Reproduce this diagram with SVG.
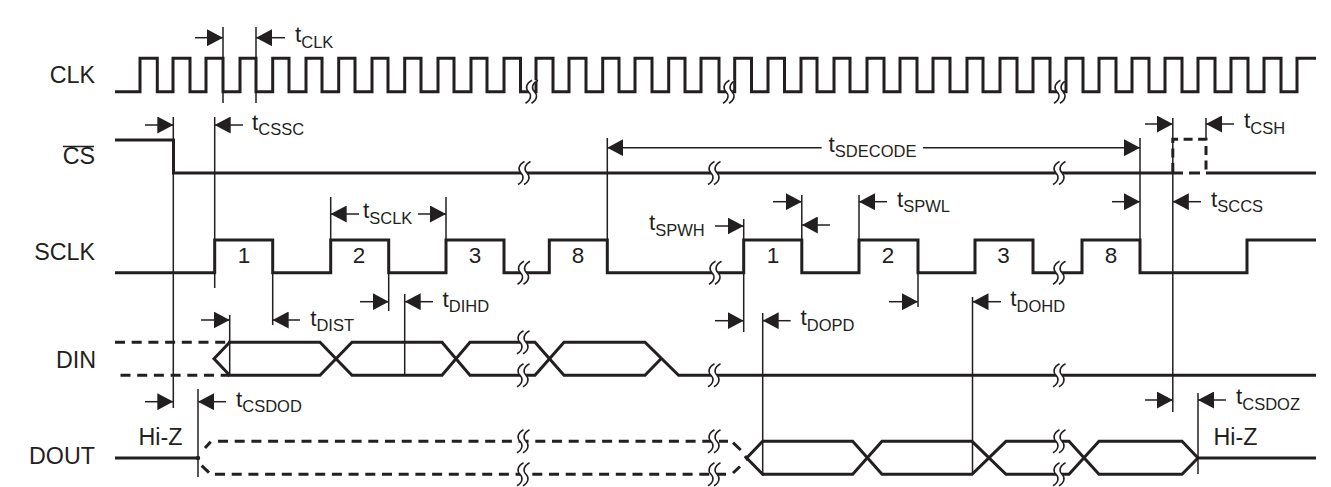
<svg xmlns="http://www.w3.org/2000/svg" xmlns:xlink="http://www.w3.org/1999/xlink" width="1331" height="487" viewBox="0 0 1331 487">
<style>
text{font-family:"Liberation Sans",Arial,sans-serif;font-size:22.5px;fill:#231f20}
.s{font-size:16.5px}
.l{font-size:23.3px}
.sig{fill:none;stroke:#231f20;stroke-width:3;stroke-linejoin:miter}
.dash{stroke-dasharray:10 6.7}
.g{fill:none;stroke:#231f20;stroke-width:1.5}
.a{fill:none;stroke:#231f20;stroke-width:1.5;marker-end:url(#ah)}
.br{fill:none;stroke:#231f20;stroke-width:1.6}
.brf{fill:#fff;stroke:none}
.m{text-anchor:middle}
.e{text-anchor:end}
</style>
<defs>
<marker id="ah" markerUnits="userSpaceOnUse" markerWidth="16" markerHeight="17" refX="16" refY="8.5" orient="auto"><path d="M0,0L16,8.5L0,17Z" fill="#231f20"/></marker>
<g id="brk">
<path class="brf" d="M.5,-11.5C-6,-8 -6,-3 -3,0C0,3 0,8 -6,11.5L0,11.5C6,8 6,3 3,0C0,-3 0,-8 6.5,-11.5Z"/>
<path class="br" d="M.5,-11.5C-6,-8 -6,-3 -3,0C0,3 0,8 -6,11.5M6.5,-11.5C0,-8 0,-3 3,0C6,3 6,8 0,11.5"/>
</g>
</defs>
<rect width="1331" height="487" fill="#fff"/>
<g id="connectors">
<path class="g" d="M223,27V103M256,27V103M173.3,117V408M214.7,117V288M330.7,197V240M446,197V240M272.7,272V325M388.7,272V311M404.7,294V375M229.7,315V375M198,389V477M743.7,219V332M801.8,195V240M859,195V240M918,272V307M972.5,297V474M762.7,313V474M607.3,138V272M1140,138V240M1172.8,118V412M1206,118V139M1198,393V474"/>
<path class="a" d="M195,37.7H223"/>
<path class="a" d="M285,37.7H256"/>
<path class="a" d="M145,125H173.3"/>
<path class="a" d="M243,125H214.7"/>
<path class="a" d="M359,214H330.7"/>
<path class="a" d="M418,214H446"/>
<path class="a" d="M300,320H272.7"/>
<path class="a" d="M360,301.7H388.7"/>
<path class="a" d="M433,301.7H404.7"/>
<path class="a" d="M201,320H229.7"/>
<path class="a" d="M145,401.7H173.3"/>
<path class="a" d="M226,401.7H198"/>
<path class="a" d="M821.7,147.7H607.3"/>
<path class="a" d="M923,147.7H1140"/>
<path class="a" d="M715,226H743.7"/>
<path class="a" d="M715,320.7H743.7"/>
<path class="a" d="M790.7,320.7H762.7"/>
<path class="a" d="M773,201.7H801.8"/>
<path class="a" d="M830,225H801.8"/>
<path class="a" d="M887,201.7H859"/>
<path class="a" d="M889,301.7H918"/>
<path class="a" d="M1001,301.7H972.5"/>
<path class="a" d="M1112,201.7H1140"/>
<path class="a" d="M1201,201.7H1172.8"/>
<path class="a" d="M1145,124H1172.8"/>
<path class="a" d="M1234,124H1206"/>
<path class="a" d="M1145,400H1172.8"/>
<path class="a" d="M1226,400H1198"/>
<text x="295" y="42">t<tspan class="s" dy="5.5">CLK</tspan></text>
<text x="252" y="129.5">t<tspan class="s" dy="5.5">CSSC</tspan></text>
<text x="363" y="218">t<tspan class="s" dy="5.5">SCLK</tspan></text>
<text x="310.2" y="325.7">t<tspan class="s" dy="5.5">DIST</tspan></text>
<text x="442.5" y="306.7">t<tspan class="s" dy="5.5">DIHD</tspan></text>
<text x="236" y="406.7">t<tspan class="s" dy="5.5">CSDOD</tspan></text>
<text x="828.6" y="151.7">t<tspan class="s" dy="5.5">SDECODE</tspan></text>
<text x="649" y="230">t<tspan class="s" dy="5.5">SPWH</tspan></text>
<text x="897" y="206.7">t<tspan class="s" dy="5.5">SPWL</tspan></text>
<text x="800.5" y="325">t<tspan class="s" dy="5.5">DOPD</tspan></text>
<text x="1010.3" y="306">t<tspan class="s" dy="5.5">DOHD</tspan></text>
<text x="1211" y="206.7">t<tspan class="s" dy="5.5">SCCS</tspan></text>
<text x="1244" y="128">t<tspan class="s" dy="5.5">CSH</tspan></text>
<text x="1236" y="404">t<tspan class="s" dy="5.5">CSDOZ</tspan></text>
</g>
<g id="CLK">
<text class="e l" x="95" y="83">CLK</text>
<path class="sig" d="M115,91.7H140V58.3H157.3V91.7H173V58.3H190V91.7H206V58.3H223V91.7H240V58.3H256V91.7H272.7V58.3H289V91.7H306V58.3H322V91.7H338.7V58.3H355V91.7H372V58.3H388V91.7H404.7V58.3H421V91.7H438V58.3H454V91.7H471V58.3H487V91.7H504V58.3H520.5V91.7H536V58.3H553V91.7H569V58.3H586V91.7H602.7V58.3H619V91.7H635V58.3H652V91.7H668.7V58.3H685V91.7H701V58.3H719V91.7H734.7V58.3H751.5V91.7H768V58.3H784.5V91.7H801V58.3H817V91.7H834V58.3H850V91.7H867V58.3H884V91.7H900V58.3H917V91.7H933V58.3H950V91.7H967V58.3H983V91.7H1000V58.3H1017V91.7H1033V58.3H1050V91.7H1066V58.3H1083V91.7H1099V58.3H1116V91.7H1132V58.3H1149V91.7H1165V58.3H1182V91.7H1198V58.3H1215V91.7H1231V58.3H1248V91.7H1264V58.3H1281V91.7H1297V58.3H1316"/>
<use href="#brk" xlink:href="#brk" x="531.5" y="91.7"/>
<use href="#brk" xlink:href="#brk" x="729" y="91.7"/>
<use href="#brk" xlink:href="#brk" x="1060" y="91.7"/>
</g>
<g id="CS">
<text class="e l" x="95" y="164">CS</text>
<path class="g" d="M63,146.5H94"/>
<path class="sig" d="M115,140H173.5V173H1183"/>
<path class="sig" d="M1206,173H1316"/>
<path class="sig" d="M1189,173H1200"/>
<path class="sig" d="M1172.8,172V139.3H1206V172" stroke-dasharray="9 5.5"/>
<use href="#brk" xlink:href="#brk" x="524" y="173"/>
<use href="#brk" xlink:href="#brk" x="714" y="173"/>
<use href="#brk" xlink:href="#brk" x="1059" y="173"/>
</g>
<g id="SCLK">
<text class="e l" x="95" y="260">SCLK</text>
<path class="sig" d="M115,272.7H214.7V240H272.7V272.7H330.7V240H388.7V272.7H446V240H504V272.7H549.3V240H607.3V272.7H743.7V240H801.8V272.7H859V240H918V272.7H975V240H1033V272.7H1082V240H1140V272.7H1247V240H1316"/>
<use href="#brk" xlink:href="#brk" x="523.5" y="272.7"/>
<use href="#brk" xlink:href="#brk" x="715" y="272.7"/>
<use href="#brk" xlink:href="#brk" x="1059" y="272.7"/>
<text class="m" x="244" y="263">1</text>
<text class="m" x="359" y="263">2</text>
<text class="m" x="475" y="263">3</text>
<text class="m" x="578" y="263">8</text>
<text class="m" x="773" y="263">1</text>
<text class="m" x="888" y="263">2</text>
<text class="m" x="1003.6" y="263">3</text>
<text class="m" x="1111" y="263">8</text>
</g>
<g id="DIN">
<text class="e l" x="96" y="368">DIN</text>
<path class="sig dash" d="M115,342.3H229"/>
<path class="sig dash" d="M120.5,375.3H229"/>
<path class="sig" d="M229.7,342.3L214,358.8L229.7,375.3"/>
<path class="sig" d="M228,342.3H320L352,375.3H442L470,342.3H535L564,375.3H645L661,358.8"/>
<path class="sig" d="M228,375.3H320L352,342.3H442L470,375.3H535L564,342.3H645L678.6,375.3H1316"/>
<use href="#brk" xlink:href="#brk" x="523" y="342.3"/>
<use href="#brk" xlink:href="#brk" x="523" y="375.3"/>
<use href="#brk" xlink:href="#brk" x="714" y="375.3"/>
<use href="#brk" xlink:href="#brk" x="1059" y="375.3"/>
</g>
<g id="DOUT">
<text class="e l" x="95" y="464">DOUT</text>
<path class="sig" d="M115,458H198"/>
<circle cx="198" cy="458" r="2.2" fill="#231f20"/>
<path class="sig" d="M205,448L210.7,441.7"/>
<path class="sig" d="M201.7,465.7L209,472.7"/>
<path class="sig dash" d="M218,441.3H728"/>
<path class="sig dash" d="M215,474.3H727"/>
<path class="sig" d="M733,442.7L740.7,450M745,456L748,460M733,473L740,466.5"/>
<path class="sig" d="M764,441.3H762.7L746.7,458L762.7,474.3H764"/>
<path class="sig" d="M762,441.3H852.7L882,474.3H972L1006,441.3H1069L1099,474.3H1182L1198,458H1316"/>
<path class="sig" d="M762,474.3H852.7L882,441.3H972L1006,474.3H1069L1099,441.3H1182L1198,458"/>
<use href="#brk" xlink:href="#brk" x="523" y="441.3"/>
<use href="#brk" xlink:href="#brk" x="523" y="474.3"/>
<use href="#brk" xlink:href="#brk" x="714" y="441.3"/>
<use href="#brk" xlink:href="#brk" x="714" y="474.3"/>
<use href="#brk" xlink:href="#brk" x="1059" y="441.3"/>
<use href="#brk" xlink:href="#brk" x="1059" y="474.3"/>
<text class="l" x="138.5" y="445">Hi-Z</text>
<text class="l" x="1213.5" y="445">Hi-Z</text>
</g>
</svg>
